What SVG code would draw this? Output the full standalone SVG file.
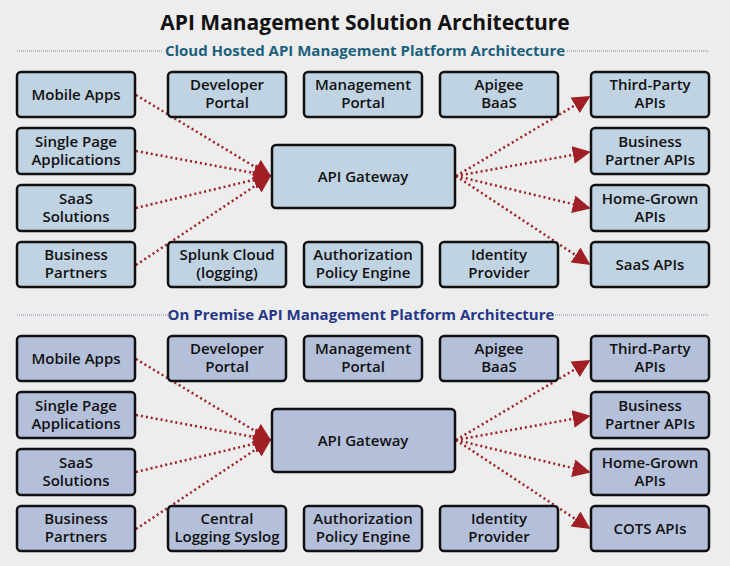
<svg xmlns="http://www.w3.org/2000/svg" width="730" height="566" viewBox="0 0 730 566">
<style>
text{font-family:"Open Sans","Noto Sans",sans-serif;font-weight:600;text-anchor:middle;fill:#111}
.b{font-size:15px}
.t rect{fill:#c0d3e3;stroke:#111;stroke-width:2.5}
.u rect{fill:#b4c0da;stroke:#111;stroke-width:2.5}
.c line{stroke:#a01e24;stroke-width:2.5;stroke-dasharray:2 3;marker-end:url(#a)}
.d{stroke:#6a8aa0;stroke-width:1;stroke-dasharray:1 1}
</style>
<defs><marker id="a" markerWidth="8" markerHeight="8" refX="7" refY="4" orient="auto" markerUnits="userSpaceOnUse" viewBox="0 0 8 8"><path d="M0,0L8,4L0,8z" fill="#a01e24" transform="scale(1)"/></marker>
<marker id="m" viewBox="0 0 10 10" refX="9" refY="5" markerWidth="18" markerHeight="18" markerUnits="userSpaceOnUse" orient="auto"><path d="M0,0L10,5L0,10z" fill="#a01e24"/></marker></defs>
<rect width="730" height="566" fill="#ededed"/>
<text x="365" y="30" style="font-size:21px;font-weight:700">API Management Solution Architecture</text>
<text x="365" y="56" style="font-size:15px;font-weight:700;fill:#1b5f7c">Cloud Hosted API Management Platform Architecture</text>
<line class="d" x1="17" y1="51" x2="163" y2="51"/><line class="d" x1="567" y1="51" x2="709" y2="51"/>
<text x="361" y="320" style="font-size:15px;font-weight:700;fill:#26378a">On Premise API Management Platform Architecture</text>
<line class="d" x1="17" y1="315" x2="170" y2="315" style="stroke:#7a88b0"/><line class="d" x1="551" y1="315" x2="709" y2="315" style="stroke:#7a88b0"/>
<g class="c" style="--x:0">
<line x1="136" y1="95" x2="270" y2="176" style="marker-end:url(#m)"/>
<line x1="136" y1="151" x2="270" y2="176" style="marker-end:url(#m)"/>
<line x1="136" y1="208" x2="270" y2="176" style="marker-end:url(#m)"/>
<line x1="136" y1="265" x2="270" y2="176" style="marker-end:url(#m)"/>
<line x1="456" y1="176" x2="589" y2="97" style="marker-end:url(#m)"/>
<line x1="456" y1="176" x2="589" y2="152" style="marker-end:url(#m)"/>
<line x1="456" y1="176" x2="589" y2="208" style="marker-end:url(#m)"/>
<line x1="456" y1="176" x2="589" y2="264" style="marker-end:url(#m)"/>
<line x1="136" y1="359" x2="270" y2="440" style="marker-end:url(#m)"/>
<line x1="136" y1="415" x2="270" y2="440" style="marker-end:url(#m)"/>
<line x1="136" y1="472" x2="270" y2="440" style="marker-end:url(#m)"/>
<line x1="136" y1="529" x2="270" y2="440" style="marker-end:url(#m)"/>
<line x1="456" y1="440" x2="589" y2="361" style="marker-end:url(#m)"/>
<line x1="456" y1="440" x2="589" y2="416" style="marker-end:url(#m)"/>
<line x1="456" y1="440" x2="589" y2="472" style="marker-end:url(#m)"/>
<line x1="456" y1="440" x2="589" y2="528" style="marker-end:url(#m)"/>
</g>
<g class="t">
<g id="t-mobile"><rect x="17" y="72" width="118" height="45" rx="4"/><text class="b" x="76" y="100">Mobile Apps</text></g>
<g id="t-spa"><rect x="17" y="128" width="118" height="46" rx="4"/><text class="b" x="76" y="147">Single Page</text><text class="b" x="76" y="165">Applications</text></g>
<g id="t-saas"><rect x="17" y="185" width="118" height="46" rx="4"/><text class="b" x="76" y="204">SaaS</text><text class="b" x="76" y="222">Solutions</text></g>
<g id="t-bp"><rect x="17" y="242" width="118" height="45" rx="4"/><text class="b" x="76" y="260">Business</text><text class="b" x="76" y="278">Partners</text></g>
<g id="t-dev"><rect x="168" y="72" width="118" height="45" rx="4"/><text class="b" x="227" y="90">Developer</text><text class="b" x="227" y="108">Portal</text></g>
<g id="t-mgmt"><rect x="304" y="72" width="118" height="45" rx="4"/><text class="b" x="363" y="90">Management</text><text class="b" x="363" y="108">Portal</text></g>
<g id="t-baas"><rect x="440" y="72" width="118" height="45" rx="4"/><text class="b" x="499" y="90">Apigee</text><text class="b" x="499" y="108">BaaS</text></g>
<g id="t-gw"><rect x="272" y="145" width="183" height="63" rx="4"/><text class="b" x="363" y="182">API Gateway</text></g>
<g id="t-splunk"><rect x="168" y="242" width="118" height="45" rx="4"/><text class="b" x="227" y="260">Splunk Cloud</text><text class="b" x="227" y="278">(logging)</text></g>
<g id="t-auth"><rect x="304" y="242" width="118" height="45" rx="4"/><text class="b" x="363" y="260">Authorization</text><text class="b" x="363" y="278">Policy Engine</text></g>
<g id="t-idp"><rect x="440" y="242" width="118" height="45" rx="4"/><text class="b" x="499" y="260">Identity</text><text class="b" x="499" y="278">Provider</text></g>
<g id="t-3p"><rect x="591" y="72" width="118" height="45" rx="4"/><text class="b" x="650" y="90">Third-Party</text><text class="b" x="650" y="108">APIs</text></g>
<g id="t-bpapi"><rect x="591" y="128" width="118" height="46" rx="4"/><text class="b" x="650" y="147">Business</text><text class="b" x="650" y="165">Partner APIs</text></g>
<g id="t-hg"><rect x="591" y="185" width="118" height="46" rx="4"/><text class="b" x="650" y="204">Home-Grown</text><text class="b" x="650" y="222">APIs</text></g>
<g id="t-saasapi"><rect x="591" y="242" width="118" height="45" rx="4"/><text class="b" x="650" y="270">SaaS APIs</text></g>
</g>
<g class="u">
<g id="u-mobile"><rect x="17" y="336" width="118" height="45" rx="4"/><text class="b" x="76" y="364">Mobile Apps</text></g>
<g id="u-spa"><rect x="17" y="392" width="118" height="46" rx="4"/><text class="b" x="76" y="411">Single Page</text><text class="b" x="76" y="429">Applications</text></g>
<g id="u-saas"><rect x="17" y="449" width="118" height="46" rx="4"/><text class="b" x="76" y="468">SaaS</text><text class="b" x="76" y="486">Solutions</text></g>
<g id="u-bp"><rect x="17" y="506" width="118" height="45" rx="4"/><text class="b" x="76" y="524">Business</text><text class="b" x="76" y="542">Partners</text></g>
<g id="u-dev"><rect x="168" y="336" width="118" height="45" rx="4"/><text class="b" x="227" y="354">Developer</text><text class="b" x="227" y="372">Portal</text></g>
<g id="u-mgmt"><rect x="304" y="336" width="118" height="45" rx="4"/><text class="b" x="363" y="354">Management</text><text class="b" x="363" y="372">Portal</text></g>
<g id="u-baas"><rect x="440" y="336" width="118" height="45" rx="4"/><text class="b" x="499" y="354">Apigee</text><text class="b" x="499" y="372">BaaS</text></g>
<g id="u-gw"><rect x="272" y="409" width="183" height="63" rx="4"/><text class="b" x="363" y="446">API Gateway</text></g>
<g id="u-log"><rect x="168" y="506" width="118" height="45" rx="4"/><text class="b" x="227" y="524">Central</text><text class="b" x="227" y="542">Logging Syslog</text></g>
<g id="u-auth"><rect x="304" y="506" width="118" height="45" rx="4"/><text class="b" x="363" y="524">Authorization</text><text class="b" x="363" y="542">Policy Engine</text></g>
<g id="u-idp"><rect x="440" y="506" width="118" height="45" rx="4"/><text class="b" x="499" y="524">Identity</text><text class="b" x="499" y="542">Provider</text></g>
<g id="u-3p"><rect x="591" y="336" width="118" height="45" rx="4"/><text class="b" x="650" y="354">Third-Party</text><text class="b" x="650" y="372">APIs</text></g>
<g id="u-bpapi"><rect x="591" y="392" width="118" height="46" rx="4"/><text class="b" x="650" y="411">Business</text><text class="b" x="650" y="429">Partner APIs</text></g>
<g id="u-hg"><rect x="591" y="449" width="118" height="46" rx="4"/><text class="b" x="650" y="468">Home-Grown</text><text class="b" x="650" y="486">APIs</text></g>
<g id="u-cots"><rect x="591" y="506" width="118" height="45" rx="4"/><text class="b" x="650" y="534">COTS APIs</text></g>
</g>
</svg>
